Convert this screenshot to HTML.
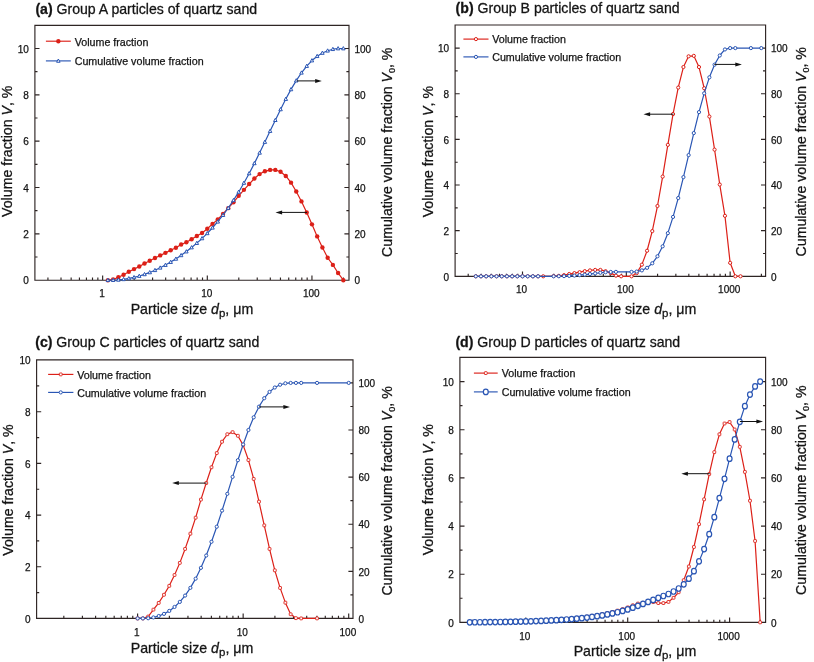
<!DOCTYPE html>
<html lang="en"><head><meta charset="utf-8"><title>Particle size distributions of quartz sand</title>
<style>html,body{margin:0;padding:0;background:#fff}svg{display:block}text{font-family:"Liberation Sans", sans-serif}</style></head>
<body>
<svg width="814" height="662" viewBox="0 0 814 662">
<rect width="814" height="662" fill="#fff"/>
<g>
<text x="35.4" y="13.5" font-size="14.1" fill="#141414" stroke="#141414" stroke-width="0.28"><tspan font-weight="bold">(a)</tspan> Group A particles of quartz sand</text>
<path d="M34.9 25.3H349V280.2H34.9ZM34.9 280.2h4.6M34.9 257.03h2.6M34.9 233.86h4.6M34.9 210.69h2.6M34.9 187.52h4.6M34.9 164.35h2.6M34.9 141.18h4.6M34.9 118.01h2.6M34.9 94.84h4.6M34.9 71.67h2.6M34.9 48.5h4.6M349 280.2h-4.6M349 257.03h-2.6M349 233.86h-4.6M349 210.69h-2.6M349 187.52h-4.6M349 164.35h-2.6M349 141.18h-4.6M349 118.01h-2.6M349 94.84h-4.6M349 71.67h-2.6M349 48.5h-4.6M47.93 280.2v-2.6M61.01 280.2v-2.6M71.15 280.2v-2.6M79.43 280.2v-2.6M86.44 280.2v-2.6M92.51 280.2v-2.6M97.86 280.2v-2.6M102.65 280.2v-4.8M134.15 280.2v-2.6M152.58 280.2v-2.6M165.66 280.2v-2.6M175.8 280.2v-2.6M184.08 280.2v-2.6M191.09 280.2v-2.6M197.16 280.2v-2.6M202.51 280.2v-2.6M207.3 280.2v-4.8M238.8 280.2v-2.6M257.23 280.2v-2.6M270.31 280.2v-2.6M280.45 280.2v-2.6M288.73 280.2v-2.6M295.74 280.2v-2.6M301.81 280.2v-2.6M307.16 280.2v-2.6M311.95 280.2v-4.8M343.45 280.2v-2.6" fill="none" stroke="#2e2524" stroke-width="1.15"/>
<polyline fill="none" stroke="#dc2018" stroke-width="1.2" stroke-linejoin="round" points="107.88,280.2 113.12,279.5 118.35,277.26 123.58,274.73 128.81,271.79 134.05,269.12 139.28,266.53 144.51,263.52 149.74,260.74 154.98,258.07 160.21,255.41 165.44,252.86 170.67,250.31 175.91,247.76 181.14,244.52 186.37,242.2 191.6,239.19 196.84,235.95 202.07,232.93 207.3,228.76 212.53,223.9 217.77,219.49 223,213.93 228.23,208.14 233.46,202.35 238.7,195.86 243.93,189.84 249.16,184.04 254.39,178.48 259.62,174.08 264.86,171.3 270.09,169.91 275.32,169.91 280.56,171.76 285.79,175.93 291.02,182.65 296.25,191.46 301.49,201.42 306.72,212.54 311.95,224.36 317.18,236.41 322.42,247.53 327.65,257.73 332.88,264.91 338.11,273.02 343.35,280.2"/><circle cx="107.88" cy="280.2" r="2.2" fill="#dc2018"/><circle cx="113.12" cy="279.5" r="2.2" fill="#dc2018"/><circle cx="118.35" cy="277.26" r="2.2" fill="#dc2018"/><circle cx="123.58" cy="274.73" r="2.2" fill="#dc2018"/><circle cx="128.81" cy="271.79" r="2.2" fill="#dc2018"/><circle cx="134.05" cy="269.12" r="2.2" fill="#dc2018"/><circle cx="139.28" cy="266.53" r="2.2" fill="#dc2018"/><circle cx="144.51" cy="263.52" r="2.2" fill="#dc2018"/><circle cx="149.74" cy="260.74" r="2.2" fill="#dc2018"/><circle cx="154.98" cy="258.07" r="2.2" fill="#dc2018"/><circle cx="160.21" cy="255.41" r="2.2" fill="#dc2018"/><circle cx="165.44" cy="252.86" r="2.2" fill="#dc2018"/><circle cx="170.67" cy="250.31" r="2.2" fill="#dc2018"/><circle cx="175.91" cy="247.76" r="2.2" fill="#dc2018"/><circle cx="181.14" cy="244.52" r="2.2" fill="#dc2018"/><circle cx="186.37" cy="242.2" r="2.2" fill="#dc2018"/><circle cx="191.6" cy="239.19" r="2.2" fill="#dc2018"/><circle cx="196.84" cy="235.95" r="2.2" fill="#dc2018"/><circle cx="202.07" cy="232.93" r="2.2" fill="#dc2018"/><circle cx="207.3" cy="228.76" r="2.2" fill="#dc2018"/><circle cx="212.53" cy="223.9" r="2.2" fill="#dc2018"/><circle cx="217.77" cy="219.49" r="2.2" fill="#dc2018"/><circle cx="223" cy="213.93" r="2.2" fill="#dc2018"/><circle cx="228.23" cy="208.14" r="2.2" fill="#dc2018"/><circle cx="233.46" cy="202.35" r="2.2" fill="#dc2018"/><circle cx="238.7" cy="195.86" r="2.2" fill="#dc2018"/><circle cx="243.93" cy="189.84" r="2.2" fill="#dc2018"/><circle cx="249.16" cy="184.04" r="2.2" fill="#dc2018"/><circle cx="254.39" cy="178.48" r="2.2" fill="#dc2018"/><circle cx="259.62" cy="174.08" r="2.2" fill="#dc2018"/><circle cx="264.86" cy="171.3" r="2.2" fill="#dc2018"/><circle cx="270.09" cy="169.91" r="2.2" fill="#dc2018"/><circle cx="275.32" cy="169.91" r="2.2" fill="#dc2018"/><circle cx="280.56" cy="171.76" r="2.2" fill="#dc2018"/><circle cx="285.79" cy="175.93" r="2.2" fill="#dc2018"/><circle cx="291.02" cy="182.65" r="2.2" fill="#dc2018"/><circle cx="296.25" cy="191.46" r="2.2" fill="#dc2018"/><circle cx="301.49" cy="201.42" r="2.2" fill="#dc2018"/><circle cx="306.72" cy="212.54" r="2.2" fill="#dc2018"/><circle cx="311.95" cy="224.36" r="2.2" fill="#dc2018"/><circle cx="317.18" cy="236.41" r="2.2" fill="#dc2018"/><circle cx="322.42" cy="247.53" r="2.2" fill="#dc2018"/><circle cx="327.65" cy="257.73" r="2.2" fill="#dc2018"/><circle cx="332.88" cy="264.91" r="2.2" fill="#dc2018"/><circle cx="338.11" cy="273.02" r="2.2" fill="#dc2018"/><circle cx="343.35" cy="280.2" r="2.2" fill="#dc2018"/>
<polyline fill="none" stroke="#2a56b4" stroke-width="1.2" stroke-linejoin="round" points="107.88,280.2 113.12,280.13 118.35,279.84 123.58,279.3 128.81,278.46 134.05,277.36 139.28,276.01 144.51,274.36 149.74,272.43 154.98,270.23 160.21,267.77 165.44,265.06 170.67,262.1 175.91,258.88 181.14,255.34 186.37,251.58 191.6,247.51 196.84,243.12 202.07,238.43 207.3,233.33 212.53,227.75 217.77,221.73 223,215.16 228.23,208.02 233.46,200.3 238.7,191.93 243.93,182.97 249.16,173.44 254.39,163.35 259.62,152.83 264.86,142.03 270.09,131.09 275.32,120.16 280.56,109.41 285.79,99.07 291.02,89.4 296.25,80.6 301.49,72.78 306.72,66.08 311.95,60.54 317.18,56.2 322.42,52.96 327.65,50.73 332.88,49.21 338.11,48.5 343.35,48.5"/><path d="M107.88 278.3L109.63 281.55L106.13 281.55Z" fill="#fff" stroke="#2a56b4" stroke-width="1" stroke-linejoin="round"/><path d="M113.12 278.23L114.87 281.48L111.37 281.48Z" fill="#fff" stroke="#2a56b4" stroke-width="1" stroke-linejoin="round"/><path d="M118.35 277.94L120.1 281.19L116.6 281.19Z" fill="#fff" stroke="#2a56b4" stroke-width="1" stroke-linejoin="round"/><path d="M123.58 277.4L125.33 280.65L121.83 280.65Z" fill="#fff" stroke="#2a56b4" stroke-width="1" stroke-linejoin="round"/><path d="M128.81 276.56L130.56 279.81L127.06 279.81Z" fill="#fff" stroke="#2a56b4" stroke-width="1" stroke-linejoin="round"/><path d="M134.05 275.46L135.8 278.71L132.3 278.71Z" fill="#fff" stroke="#2a56b4" stroke-width="1" stroke-linejoin="round"/><path d="M139.28 274.11L141.03 277.36L137.53 277.36Z" fill="#fff" stroke="#2a56b4" stroke-width="1" stroke-linejoin="round"/><path d="M144.51 272.46L146.26 275.71L142.76 275.71Z" fill="#fff" stroke="#2a56b4" stroke-width="1" stroke-linejoin="round"/><path d="M149.74 270.53L151.49 273.78L147.99 273.78Z" fill="#fff" stroke="#2a56b4" stroke-width="1" stroke-linejoin="round"/><path d="M154.98 268.33L156.73 271.58L153.23 271.58Z" fill="#fff" stroke="#2a56b4" stroke-width="1" stroke-linejoin="round"/><path d="M160.21 265.87L161.96 269.12L158.46 269.12Z" fill="#fff" stroke="#2a56b4" stroke-width="1" stroke-linejoin="round"/><path d="M165.44 263.16L167.19 266.41L163.69 266.41Z" fill="#fff" stroke="#2a56b4" stroke-width="1" stroke-linejoin="round"/><path d="M170.67 260.2L172.42 263.45L168.92 263.45Z" fill="#fff" stroke="#2a56b4" stroke-width="1" stroke-linejoin="round"/><path d="M175.91 256.98L177.66 260.23L174.16 260.23Z" fill="#fff" stroke="#2a56b4" stroke-width="1" stroke-linejoin="round"/><path d="M181.14 253.44L182.89 256.69L179.39 256.69Z" fill="#fff" stroke="#2a56b4" stroke-width="1" stroke-linejoin="round"/><path d="M186.37 249.68L188.12 252.93L184.62 252.93Z" fill="#fff" stroke="#2a56b4" stroke-width="1" stroke-linejoin="round"/><path d="M191.6 245.61L193.35 248.86L189.85 248.86Z" fill="#fff" stroke="#2a56b4" stroke-width="1" stroke-linejoin="round"/><path d="M196.84 241.22L198.59 244.47L195.09 244.47Z" fill="#fff" stroke="#2a56b4" stroke-width="1" stroke-linejoin="round"/><path d="M202.07 236.53L203.82 239.78L200.32 239.78Z" fill="#fff" stroke="#2a56b4" stroke-width="1" stroke-linejoin="round"/><path d="M207.3 231.43L209.05 234.68L205.55 234.68Z" fill="#fff" stroke="#2a56b4" stroke-width="1" stroke-linejoin="round"/><path d="M212.53 225.85L214.28 229.1L210.78 229.1Z" fill="#fff" stroke="#2a56b4" stroke-width="1" stroke-linejoin="round"/><path d="M217.77 219.83L219.52 223.08L216.02 223.08Z" fill="#fff" stroke="#2a56b4" stroke-width="1" stroke-linejoin="round"/><path d="M223 213.26L224.75 216.51L221.25 216.51Z" fill="#fff" stroke="#2a56b4" stroke-width="1" stroke-linejoin="round"/><path d="M228.23 206.12L229.98 209.37L226.48 209.37Z" fill="#fff" stroke="#2a56b4" stroke-width="1" stroke-linejoin="round"/><path d="M233.46 198.4L235.21 201.65L231.71 201.65Z" fill="#fff" stroke="#2a56b4" stroke-width="1" stroke-linejoin="round"/><path d="M238.7 190.03L240.45 193.28L236.95 193.28Z" fill="#fff" stroke="#2a56b4" stroke-width="1" stroke-linejoin="round"/><path d="M243.93 181.07L245.68 184.32L242.18 184.32Z" fill="#fff" stroke="#2a56b4" stroke-width="1" stroke-linejoin="round"/><path d="M249.16 171.54L250.91 174.79L247.41 174.79Z" fill="#fff" stroke="#2a56b4" stroke-width="1" stroke-linejoin="round"/><path d="M254.39 161.45L256.14 164.7L252.64 164.7Z" fill="#fff" stroke="#2a56b4" stroke-width="1" stroke-linejoin="round"/><path d="M259.62 150.93L261.38 154.18L257.88 154.18Z" fill="#fff" stroke="#2a56b4" stroke-width="1" stroke-linejoin="round"/><path d="M264.86 140.13L266.61 143.38L263.11 143.38Z" fill="#fff" stroke="#2a56b4" stroke-width="1" stroke-linejoin="round"/><path d="M270.09 129.19L271.84 132.44L268.34 132.44Z" fill="#fff" stroke="#2a56b4" stroke-width="1" stroke-linejoin="round"/><path d="M275.32 118.26L277.07 121.51L273.57 121.51Z" fill="#fff" stroke="#2a56b4" stroke-width="1" stroke-linejoin="round"/><path d="M280.56 107.51L282.31 110.76L278.81 110.76Z" fill="#fff" stroke="#2a56b4" stroke-width="1" stroke-linejoin="round"/><path d="M285.79 97.17L287.54 100.42L284.04 100.42Z" fill="#fff" stroke="#2a56b4" stroke-width="1" stroke-linejoin="round"/><path d="M291.02 87.5L292.77 90.75L289.27 90.75Z" fill="#fff" stroke="#2a56b4" stroke-width="1" stroke-linejoin="round"/><path d="M296.25 78.7L298 81.95L294.5 81.95Z" fill="#fff" stroke="#2a56b4" stroke-width="1" stroke-linejoin="round"/><path d="M301.49 70.88L303.24 74.13L299.74 74.13Z" fill="#fff" stroke="#2a56b4" stroke-width="1" stroke-linejoin="round"/><path d="M306.72 64.18L308.47 67.43L304.97 67.43Z" fill="#fff" stroke="#2a56b4" stroke-width="1" stroke-linejoin="round"/><path d="M311.95 58.64L313.7 61.89L310.2 61.89Z" fill="#fff" stroke="#2a56b4" stroke-width="1" stroke-linejoin="round"/><path d="M317.18 54.3L318.93 57.55L315.43 57.55Z" fill="#fff" stroke="#2a56b4" stroke-width="1" stroke-linejoin="round"/><path d="M322.42 51.06L324.17 54.31L320.67 54.31Z" fill="#fff" stroke="#2a56b4" stroke-width="1" stroke-linejoin="round"/><path d="M327.65 48.83L329.4 52.08L325.9 52.08Z" fill="#fff" stroke="#2a56b4" stroke-width="1" stroke-linejoin="round"/><path d="M332.88 47.31L334.63 50.56L331.13 50.56Z" fill="#fff" stroke="#2a56b4" stroke-width="1" stroke-linejoin="round"/><path d="M338.11 46.6L339.86 49.85L336.36 49.85Z" fill="#fff" stroke="#2a56b4" stroke-width="1" stroke-linejoin="round"/><path d="M343.35 46.6L345.1 49.85L341.6 49.85Z" fill="#fff" stroke="#2a56b4" stroke-width="1" stroke-linejoin="round"/>
<g font-size="10" fill="#141414" stroke="#141414" stroke-width="0.25"><text x="28.9" y="284.4" text-anchor="end">0</text><text x="28.9" y="238.06" text-anchor="end">2</text><text x="28.9" y="191.72" text-anchor="end">4</text><text x="28.9" y="145.38" text-anchor="end">6</text><text x="28.9" y="99.04" text-anchor="end">8</text><text x="28.9" y="52.7" text-anchor="end">10</text><text x="354.4" y="284.4">0</text><text x="354.4" y="238.06">20</text><text x="354.4" y="191.72">40</text><text x="354.4" y="145.38">60</text><text x="354.4" y="99.04">80</text><text x="354.4" y="52.7">100</text><text x="102.05" y="297.4" text-anchor="middle">1</text><text x="206.7" y="297.4" text-anchor="middle">10</text><text x="311.35" y="297.4" text-anchor="middle">100</text></g>
<text x="191.95" y="313.7" text-anchor="middle" font-size="14.2" fill="#141414" stroke="#141414" stroke-width="0.28">Particle size <tspan font-style="italic">d</tspan><tspan font-size="11.5" dy="3">p</tspan><tspan dy="-3">, μm</tspan></text>
<text transform="translate(12.1 151.25) rotate(-90)" text-anchor="middle" font-size="14.15" fill="#141414" stroke="#141414" stroke-width="0.28">Volume fraction <tspan font-style="italic">V</tspan>, %</text>
<text transform="translate(391.5 152.25) rotate(-90)" text-anchor="middle" font-size="14.15" fill="#141414" stroke="#141414" stroke-width="0.28">Cumulative volume fraction <tspan font-style="italic">V</tspan><tspan font-size="9" dy="3">0</tspan><tspan dy="-3">, %</tspan></text>
<line x1="45.9" y1="41.2" x2="70.8" y2="41.2" stroke="#dc2018" stroke-width="1.15"/><circle cx="58.35" cy="41.2" r="2.2" fill="#dc2018"/>
<line x1="45.9" y1="60.9" x2="70.8" y2="60.9" stroke="#2a56b4" stroke-width="1.15"/><path d="M58.35 59L60.1 62.25L56.6 62.25Z" fill="#fff" stroke="#2a56b4" stroke-width="1" stroke-linejoin="round"/>
<g font-size="10.7" fill="#141414" stroke="#141414" stroke-width="0.25"><text x="74.7" y="45.5">Volume fraction</text><text x="74.7" y="65.2">Cumulative volume fraction</text></g>
<line x1="307" y1="212.4" x2="281.1" y2="212.4" stroke="#111" stroke-width="1"/><path d="M275.5 212.4L282.1 210.4L282.1 214.4Z" fill="#111"/>
<line x1="296.8" y1="80.9" x2="316.2" y2="80.9" stroke="#111" stroke-width="1"/><path d="M321.8 80.9L315.2 78.9L315.2 82.9Z" fill="#111"/>
</g>
<g>
<text x="455.6" y="13.3" font-size="14.1" fill="#141414" stroke="#141414" stroke-width="0.28"><tspan font-weight="bold">(b)</tspan> Group B particles of quartz sand</text>
<path d="M455.1 25H765.6V276.3H455.1ZM455.1 276.3h4.6M455.1 253.48h2.6M455.1 230.66h4.6M455.1 207.84h2.6M455.1 185.02h4.6M455.1 162.2h2.6M455.1 139.38h4.6M455.1 116.56h2.6M455.1 93.74h4.6M455.1 70.92h2.6M455.1 48.1h4.6M765.6 276.3h-4.6M765.6 253.48h-2.6M765.6 230.66h-4.6M765.6 207.84h-2.6M765.6 185.02h-4.6M765.6 162.2h-2.6M765.6 139.38h-4.6M765.6 116.56h-2.6M765.6 93.74h-4.6M765.6 70.92h-2.6M765.6 48.1h-4.6M468.21 276.3v-2.6M481.19 276.3v-2.6M491.25 276.3v-2.6M499.47 276.3v-2.6M506.42 276.3v-2.6M512.44 276.3v-2.6M517.75 276.3v-2.6M522.5 276.3v-4.8M553.75 276.3v-2.6M572.03 276.3v-2.6M585.01 276.3v-2.6M595.07 276.3v-2.6M603.29 276.3v-2.6M610.24 276.3v-2.6M616.26 276.3v-2.6M621.57 276.3v-2.6M626.32 276.3v-4.8M657.57 276.3v-2.6M675.85 276.3v-2.6M688.83 276.3v-2.6M698.89 276.3v-2.6M707.11 276.3v-2.6M714.06 276.3v-2.6M720.08 276.3v-2.6M725.39 276.3v-2.6M730.14 276.3v-4.8M761.39 276.3v-2.6" fill="none" stroke="#2e2524" stroke-width="1.15"/>
<polyline fill="none" stroke="#dc2018" stroke-width="1.2" stroke-linejoin="round" points="475.78,276.3 480.97,276.3 486.16,276.3 491.35,276.3 496.55,276.3 501.74,276.3 506.93,276.3 512.12,276.3 517.31,276.3 522.5,276.3 527.69,276.3 532.88,276.3 538.07,276.3 543.26,276.3 553.65,276.07 558.84,275.84 564.03,275.16 569.22,274.02 574.41,273.11 579.6,272.19 584.79,271.17 589.98,270.37 595.17,269.91 600.37,269.91 605.56,271.17 610.75,273.11 615.94,275.62 621.13,276.3 631.51,276.3 636.7,273.11 641.89,264.66 647.08,250.74 652.27,231.12 657.47,206.01 662.66,176.58 667.85,144.86 673.04,114.05 678.23,87.58 683.42,67.04 688.61,56.32 693.8,55.86 698.99,67.04 704.18,88.26 709.38,116.56 714.57,149.65 719.76,184.56 724.95,215.83 730.14,262.84 735.33,276.3 740.52,276.3"/><circle cx="475.78" cy="276.3" r="1.6" fill="#fff" stroke="#dc2018" stroke-width="1"/><circle cx="480.97" cy="276.3" r="1.6" fill="#fff" stroke="#dc2018" stroke-width="1"/><circle cx="486.16" cy="276.3" r="1.6" fill="#fff" stroke="#dc2018" stroke-width="1"/><circle cx="491.35" cy="276.3" r="1.6" fill="#fff" stroke="#dc2018" stroke-width="1"/><circle cx="496.55" cy="276.3" r="1.6" fill="#fff" stroke="#dc2018" stroke-width="1"/><circle cx="501.74" cy="276.3" r="1.6" fill="#fff" stroke="#dc2018" stroke-width="1"/><circle cx="506.93" cy="276.3" r="1.6" fill="#fff" stroke="#dc2018" stroke-width="1"/><circle cx="512.12" cy="276.3" r="1.6" fill="#fff" stroke="#dc2018" stroke-width="1"/><circle cx="517.31" cy="276.3" r="1.6" fill="#fff" stroke="#dc2018" stroke-width="1"/><circle cx="522.5" cy="276.3" r="1.6" fill="#fff" stroke="#dc2018" stroke-width="1"/><circle cx="527.69" cy="276.3" r="1.6" fill="#fff" stroke="#dc2018" stroke-width="1"/><circle cx="532.88" cy="276.3" r="1.6" fill="#fff" stroke="#dc2018" stroke-width="1"/><circle cx="538.07" cy="276.3" r="1.6" fill="#fff" stroke="#dc2018" stroke-width="1"/><circle cx="543.26" cy="276.3" r="1.6" fill="#fff" stroke="#dc2018" stroke-width="1"/><circle cx="553.65" cy="276.07" r="1.6" fill="#fff" stroke="#dc2018" stroke-width="1"/><circle cx="558.84" cy="275.84" r="1.6" fill="#fff" stroke="#dc2018" stroke-width="1"/><circle cx="564.03" cy="275.16" r="1.6" fill="#fff" stroke="#dc2018" stroke-width="1"/><circle cx="569.22" cy="274.02" r="1.6" fill="#fff" stroke="#dc2018" stroke-width="1"/><circle cx="574.41" cy="273.11" r="1.6" fill="#fff" stroke="#dc2018" stroke-width="1"/><circle cx="579.6" cy="272.19" r="1.6" fill="#fff" stroke="#dc2018" stroke-width="1"/><circle cx="584.79" cy="271.17" r="1.6" fill="#fff" stroke="#dc2018" stroke-width="1"/><circle cx="589.98" cy="270.37" r="1.6" fill="#fff" stroke="#dc2018" stroke-width="1"/><circle cx="595.17" cy="269.91" r="1.6" fill="#fff" stroke="#dc2018" stroke-width="1"/><circle cx="600.37" cy="269.91" r="1.6" fill="#fff" stroke="#dc2018" stroke-width="1"/><circle cx="605.56" cy="271.17" r="1.6" fill="#fff" stroke="#dc2018" stroke-width="1"/><circle cx="610.75" cy="273.11" r="1.6" fill="#fff" stroke="#dc2018" stroke-width="1"/><circle cx="615.94" cy="275.62" r="1.6" fill="#fff" stroke="#dc2018" stroke-width="1"/><circle cx="621.13" cy="276.3" r="1.6" fill="#fff" stroke="#dc2018" stroke-width="1"/><circle cx="631.51" cy="276.3" r="1.6" fill="#fff" stroke="#dc2018" stroke-width="1"/><circle cx="636.7" cy="273.11" r="1.6" fill="#fff" stroke="#dc2018" stroke-width="1"/><circle cx="641.89" cy="264.66" r="1.6" fill="#fff" stroke="#dc2018" stroke-width="1"/><circle cx="647.08" cy="250.74" r="1.6" fill="#fff" stroke="#dc2018" stroke-width="1"/><circle cx="652.27" cy="231.12" r="1.6" fill="#fff" stroke="#dc2018" stroke-width="1"/><circle cx="657.47" cy="206.01" r="1.6" fill="#fff" stroke="#dc2018" stroke-width="1"/><circle cx="662.66" cy="176.58" r="1.6" fill="#fff" stroke="#dc2018" stroke-width="1"/><circle cx="667.85" cy="144.86" r="1.6" fill="#fff" stroke="#dc2018" stroke-width="1"/><circle cx="673.04" cy="114.05" r="1.6" fill="#fff" stroke="#dc2018" stroke-width="1"/><circle cx="678.23" cy="87.58" r="1.6" fill="#fff" stroke="#dc2018" stroke-width="1"/><circle cx="683.42" cy="67.04" r="1.6" fill="#fff" stroke="#dc2018" stroke-width="1"/><circle cx="688.61" cy="56.32" r="1.6" fill="#fff" stroke="#dc2018" stroke-width="1"/><circle cx="693.8" cy="55.86" r="1.6" fill="#fff" stroke="#dc2018" stroke-width="1"/><circle cx="698.99" cy="67.04" r="1.6" fill="#fff" stroke="#dc2018" stroke-width="1"/><circle cx="704.18" cy="88.26" r="1.6" fill="#fff" stroke="#dc2018" stroke-width="1"/><circle cx="709.38" cy="116.56" r="1.6" fill="#fff" stroke="#dc2018" stroke-width="1"/><circle cx="714.57" cy="149.65" r="1.6" fill="#fff" stroke="#dc2018" stroke-width="1"/><circle cx="719.76" cy="184.56" r="1.6" fill="#fff" stroke="#dc2018" stroke-width="1"/><circle cx="724.95" cy="215.83" r="1.6" fill="#fff" stroke="#dc2018" stroke-width="1"/><circle cx="730.14" cy="262.84" r="1.6" fill="#fff" stroke="#dc2018" stroke-width="1"/><circle cx="735.33" cy="276.3" r="1.6" fill="#fff" stroke="#dc2018" stroke-width="1"/><circle cx="740.52" cy="276.3" r="1.6" fill="#fff" stroke="#dc2018" stroke-width="1"/>
<polyline fill="none" stroke="#2a56b4" stroke-width="1.2" stroke-linejoin="round" points="475.78,276.3 480.97,276.3 486.16,276.3 491.35,276.3 496.55,276.3 501.74,276.3 506.93,276.3 512.12,276.3 517.31,276.3 522.5,276.3 527.69,276.3 532.88,276.3 538.07,276.3 553.65,276.28 558.84,276.23 564.03,276.12 569.22,275.89 574.41,275.57 579.6,275.16 584.79,274.65 589.98,274.05 595.17,273.41 600.37,272.77 605.56,272.26 610.75,271.94 615.94,271.87 631.51,271.87 636.7,271.55 641.89,270.39 647.08,267.83 652.27,263.31 657.47,256.28 662.66,246.31 667.85,233.16 673.04,216.93 678.23,198.05 683.42,177.12 688.61,155.11 693.8,133.06 698.99,112.13 704.18,93.32 709.38,77.34 714.57,64.67 719.76,55.5 724.95,49.45 730.14,48.1 735.33,48.1 750.9,48.1 761.29,48.1"/><circle cx="475.78" cy="276.3" r="1.6" fill="#fff" stroke="#2a56b4" stroke-width="1"/><circle cx="480.97" cy="276.3" r="1.6" fill="#fff" stroke="#2a56b4" stroke-width="1"/><circle cx="486.16" cy="276.3" r="1.6" fill="#fff" stroke="#2a56b4" stroke-width="1"/><circle cx="491.35" cy="276.3" r="1.6" fill="#fff" stroke="#2a56b4" stroke-width="1"/><circle cx="496.55" cy="276.3" r="1.6" fill="#fff" stroke="#2a56b4" stroke-width="1"/><circle cx="501.74" cy="276.3" r="1.6" fill="#fff" stroke="#2a56b4" stroke-width="1"/><circle cx="506.93" cy="276.3" r="1.6" fill="#fff" stroke="#2a56b4" stroke-width="1"/><circle cx="512.12" cy="276.3" r="1.6" fill="#fff" stroke="#2a56b4" stroke-width="1"/><circle cx="517.31" cy="276.3" r="1.6" fill="#fff" stroke="#2a56b4" stroke-width="1"/><circle cx="522.5" cy="276.3" r="1.6" fill="#fff" stroke="#2a56b4" stroke-width="1"/><circle cx="527.69" cy="276.3" r="1.6" fill="#fff" stroke="#2a56b4" stroke-width="1"/><circle cx="532.88" cy="276.3" r="1.6" fill="#fff" stroke="#2a56b4" stroke-width="1"/><circle cx="538.07" cy="276.3" r="1.6" fill="#fff" stroke="#2a56b4" stroke-width="1"/><circle cx="553.65" cy="276.28" r="1.6" fill="#fff" stroke="#2a56b4" stroke-width="1"/><circle cx="558.84" cy="276.23" r="1.6" fill="#fff" stroke="#2a56b4" stroke-width="1"/><circle cx="564.03" cy="276.12" r="1.6" fill="#fff" stroke="#2a56b4" stroke-width="1"/><circle cx="569.22" cy="275.89" r="1.6" fill="#fff" stroke="#2a56b4" stroke-width="1"/><circle cx="574.41" cy="275.57" r="1.6" fill="#fff" stroke="#2a56b4" stroke-width="1"/><circle cx="579.6" cy="275.16" r="1.6" fill="#fff" stroke="#2a56b4" stroke-width="1"/><circle cx="584.79" cy="274.65" r="1.6" fill="#fff" stroke="#2a56b4" stroke-width="1"/><circle cx="589.98" cy="274.05" r="1.6" fill="#fff" stroke="#2a56b4" stroke-width="1"/><circle cx="595.17" cy="273.41" r="1.6" fill="#fff" stroke="#2a56b4" stroke-width="1"/><circle cx="600.37" cy="272.77" r="1.6" fill="#fff" stroke="#2a56b4" stroke-width="1"/><circle cx="605.56" cy="272.26" r="1.6" fill="#fff" stroke="#2a56b4" stroke-width="1"/><circle cx="610.75" cy="271.94" r="1.6" fill="#fff" stroke="#2a56b4" stroke-width="1"/><circle cx="615.94" cy="271.87" r="1.6" fill="#fff" stroke="#2a56b4" stroke-width="1"/><circle cx="631.51" cy="271.87" r="1.6" fill="#fff" stroke="#2a56b4" stroke-width="1"/><circle cx="636.7" cy="271.55" r="1.6" fill="#fff" stroke="#2a56b4" stroke-width="1"/><circle cx="641.89" cy="270.39" r="1.6" fill="#fff" stroke="#2a56b4" stroke-width="1"/><circle cx="647.08" cy="267.83" r="1.6" fill="#fff" stroke="#2a56b4" stroke-width="1"/><circle cx="652.27" cy="263.31" r="1.6" fill="#fff" stroke="#2a56b4" stroke-width="1"/><circle cx="657.47" cy="256.28" r="1.6" fill="#fff" stroke="#2a56b4" stroke-width="1"/><circle cx="662.66" cy="246.31" r="1.6" fill="#fff" stroke="#2a56b4" stroke-width="1"/><circle cx="667.85" cy="233.16" r="1.6" fill="#fff" stroke="#2a56b4" stroke-width="1"/><circle cx="673.04" cy="216.93" r="1.6" fill="#fff" stroke="#2a56b4" stroke-width="1"/><circle cx="678.23" cy="198.05" r="1.6" fill="#fff" stroke="#2a56b4" stroke-width="1"/><circle cx="683.42" cy="177.12" r="1.6" fill="#fff" stroke="#2a56b4" stroke-width="1"/><circle cx="688.61" cy="155.11" r="1.6" fill="#fff" stroke="#2a56b4" stroke-width="1"/><circle cx="693.8" cy="133.06" r="1.6" fill="#fff" stroke="#2a56b4" stroke-width="1"/><circle cx="698.99" cy="112.13" r="1.6" fill="#fff" stroke="#2a56b4" stroke-width="1"/><circle cx="704.18" cy="93.32" r="1.6" fill="#fff" stroke="#2a56b4" stroke-width="1"/><circle cx="709.38" cy="77.34" r="1.6" fill="#fff" stroke="#2a56b4" stroke-width="1"/><circle cx="714.57" cy="64.67" r="1.6" fill="#fff" stroke="#2a56b4" stroke-width="1"/><circle cx="719.76" cy="55.5" r="1.6" fill="#fff" stroke="#2a56b4" stroke-width="1"/><circle cx="724.95" cy="49.45" r="1.6" fill="#fff" stroke="#2a56b4" stroke-width="1"/><circle cx="730.14" cy="48.1" r="1.6" fill="#fff" stroke="#2a56b4" stroke-width="1"/><circle cx="735.33" cy="48.1" r="1.6" fill="#fff" stroke="#2a56b4" stroke-width="1"/><circle cx="750.9" cy="48.1" r="1.6" fill="#fff" stroke="#2a56b4" stroke-width="1"/><circle cx="761.29" cy="48.1" r="1.6" fill="#fff" stroke="#2a56b4" stroke-width="1"/>
<g font-size="10" fill="#141414" stroke="#141414" stroke-width="0.25"><text x="449.1" y="280.5" text-anchor="end">0</text><text x="449.1" y="234.86" text-anchor="end">2</text><text x="449.1" y="189.22" text-anchor="end">4</text><text x="449.1" y="143.58" text-anchor="end">6</text><text x="449.1" y="97.94" text-anchor="end">8</text><text x="449.1" y="52.3" text-anchor="end">10</text><text x="771" y="280.5">0</text><text x="771" y="234.86">20</text><text x="771" y="189.22">40</text><text x="771" y="143.58">60</text><text x="771" y="97.94">80</text><text x="771" y="52.3">100</text><text x="521.6" y="293.3" text-anchor="middle">10</text><text x="625.42" y="293.3" text-anchor="middle">100</text><text x="729.24" y="293.3" text-anchor="middle">1000</text></g>
<text x="635.05" y="313.7" text-anchor="middle" font-size="14.2" fill="#141414" stroke="#141414" stroke-width="0.28">Particle size <tspan font-style="italic">d</tspan><tspan font-size="11.5" dy="3">p</tspan><tspan dy="-3">, μm</tspan></text>
<text transform="translate(432.6 151.65) rotate(-90)" text-anchor="middle" font-size="14.15" fill="#141414" stroke="#141414" stroke-width="0.28">Volume fraction <tspan font-style="italic">V</tspan>, %</text>
<text transform="translate(805.9 151.75) rotate(-90)" text-anchor="middle" font-size="14.15" fill="#141414" stroke="#141414" stroke-width="0.28">Cumulative volume fraction <tspan font-style="italic">V</tspan><tspan font-size="9" dy="3">0</tspan><tspan dy="-3">, %</tspan></text>
<line x1="463.4" y1="39.1" x2="488.5" y2="39.1" stroke="#dc2018" stroke-width="1.15"/><circle cx="475.95" cy="39.1" r="1.6" fill="#fff" stroke="#dc2018" stroke-width="1"/>
<line x1="463.4" y1="56.9" x2="488.5" y2="56.9" stroke="#2a56b4" stroke-width="1.15"/><circle cx="475.95" cy="56.9" r="1.6" fill="#fff" stroke="#2a56b4" stroke-width="1"/>
<g font-size="10.7" fill="#141414" stroke="#141414" stroke-width="0.25"><text x="492.2" y="43.4">Volume fraction</text><text x="492.2" y="61.2">Cumulative volume fraction</text></g>
<line x1="673.5" y1="114.2" x2="649.1" y2="114.2" stroke="#111" stroke-width="1"/><path d="M643.5 114.2L650.1 112.2L650.1 116.2Z" fill="#111"/>
<line x1="714.3" y1="64.4" x2="736.3" y2="64.4" stroke="#111" stroke-width="1"/><path d="M741.9 64.4L735.3 62.4L735.3 66.4Z" fill="#111"/>
</g>
<g>
<text x="35.2" y="346.9" font-size="14.1" fill="#141414" stroke="#141414" stroke-width="0.28"><tspan font-weight="bold">(c)</tspan> Group C particles of quartz sand</text>
<path d="M36.6 359.8H353V618.4H36.6ZM36.6 618.4h4.6M36.6 592.57h2.6M36.6 566.74h4.6M36.6 540.91h2.6M36.6 515.08h4.6M36.6 489.25h2.6M36.6 463.42h4.6M36.6 437.59h2.6M36.6 411.76h4.6M36.6 385.93h2.6M353 618.4h-4.6M353 594.85h-2.6M353 571.3h-4.6M353 547.75h-2.6M353 524.2h-4.6M353 500.65h-2.6M353 477.1h-4.6M353 453.55h-2.6M353 430h-4.6M353 406.45h-2.6M353 382.9h-4.6M63.82 618.4v-2.6M82.41 618.4v-2.6M95.6 618.4v-2.6M105.83 618.4v-2.6M114.18 618.4v-2.6M121.25 618.4v-2.6M127.37 618.4v-2.6M132.77 618.4v-2.6M137.6 618.4v-4.8M169.37 618.4v-2.6M187.96 618.4v-2.6M201.15 618.4v-2.6M211.38 618.4v-2.6M219.73 618.4v-2.6M226.8 618.4v-2.6M232.92 618.4v-2.6M238.32 618.4v-2.6M243.15 618.4v-4.8M274.92 618.4v-2.6M293.51 618.4v-2.6M306.7 618.4v-2.6M316.93 618.4v-2.6M325.28 618.4v-2.6M332.35 618.4v-2.6M338.47 618.4v-2.6M343.87 618.4v-2.6M348.7 618.4v-4.8" fill="none" stroke="#2e2524" stroke-width="1.15"/>
<polyline fill="none" stroke="#dc2018" stroke-width="1.2" stroke-linejoin="round" points="137.6,618.4 142.88,618.4 148.16,616.59 153.43,609.62 158.71,602.9 163.99,594.77 169.26,585.85 174.54,575.01 179.82,562.87 185.1,548.92 190.38,533.68 195.65,517.66 200.93,499.58 206.21,483.05 211.48,467.29 216.76,453.09 222.04,441.72 227.32,434.23 232.59,432.17 237.87,435.78 243.15,445.08 248.43,460.06 253.7,478.92 258.98,501.65 264.26,525.41 269.54,548.92 274.81,570.36 280.09,587.92 285.37,602.64 290.65,614.27 295.92,618.14 301.2,618.4 317.03,618.4"/><rect x="136.2" y="617" width="2.8" height="2.8" rx="0.5" fill="#fff" stroke="#dc2018" stroke-width="0.9"/><rect x="141.48" y="617" width="2.8" height="2.8" rx="0.5" fill="#fff" stroke="#dc2018" stroke-width="0.9"/><rect x="146.75" y="615.19" width="2.8" height="2.8" rx="0.5" fill="#fff" stroke="#dc2018" stroke-width="0.9"/><rect x="152.03" y="608.22" width="2.8" height="2.8" rx="0.5" fill="#fff" stroke="#dc2018" stroke-width="0.9"/><rect x="157.31" y="601.5" width="2.8" height="2.8" rx="0.5" fill="#fff" stroke="#dc2018" stroke-width="0.9"/><rect x="162.59" y="593.37" width="2.8" height="2.8" rx="0.5" fill="#fff" stroke="#dc2018" stroke-width="0.9"/><rect x="167.86" y="584.45" width="2.8" height="2.8" rx="0.5" fill="#fff" stroke="#dc2018" stroke-width="0.9"/><rect x="173.14" y="573.61" width="2.8" height="2.8" rx="0.5" fill="#fff" stroke="#dc2018" stroke-width="0.9"/><rect x="178.42" y="561.47" width="2.8" height="2.8" rx="0.5" fill="#fff" stroke="#dc2018" stroke-width="0.9"/><rect x="183.7" y="547.52" width="2.8" height="2.8" rx="0.5" fill="#fff" stroke="#dc2018" stroke-width="0.9"/><rect x="188.97" y="532.28" width="2.8" height="2.8" rx="0.5" fill="#fff" stroke="#dc2018" stroke-width="0.9"/><rect x="194.25" y="516.26" width="2.8" height="2.8" rx="0.5" fill="#fff" stroke="#dc2018" stroke-width="0.9"/><rect x="199.53" y="498.18" width="2.8" height="2.8" rx="0.5" fill="#fff" stroke="#dc2018" stroke-width="0.9"/><rect x="204.81" y="481.65" width="2.8" height="2.8" rx="0.5" fill="#fff" stroke="#dc2018" stroke-width="0.9"/><rect x="210.08" y="465.89" width="2.8" height="2.8" rx="0.5" fill="#fff" stroke="#dc2018" stroke-width="0.9"/><rect x="215.36" y="451.69" width="2.8" height="2.8" rx="0.5" fill="#fff" stroke="#dc2018" stroke-width="0.9"/><rect x="220.64" y="440.32" width="2.8" height="2.8" rx="0.5" fill="#fff" stroke="#dc2018" stroke-width="0.9"/><rect x="225.92" y="432.83" width="2.8" height="2.8" rx="0.5" fill="#fff" stroke="#dc2018" stroke-width="0.9"/><rect x="231.19" y="430.77" width="2.8" height="2.8" rx="0.5" fill="#fff" stroke="#dc2018" stroke-width="0.9"/><rect x="236.47" y="434.38" width="2.8" height="2.8" rx="0.5" fill="#fff" stroke="#dc2018" stroke-width="0.9"/><rect x="241.75" y="443.68" width="2.8" height="2.8" rx="0.5" fill="#fff" stroke="#dc2018" stroke-width="0.9"/><rect x="247.03" y="458.66" width="2.8" height="2.8" rx="0.5" fill="#fff" stroke="#dc2018" stroke-width="0.9"/><rect x="252.3" y="477.52" width="2.8" height="2.8" rx="0.5" fill="#fff" stroke="#dc2018" stroke-width="0.9"/><rect x="257.58" y="500.25" width="2.8" height="2.8" rx="0.5" fill="#fff" stroke="#dc2018" stroke-width="0.9"/><rect x="262.86" y="524.01" width="2.8" height="2.8" rx="0.5" fill="#fff" stroke="#dc2018" stroke-width="0.9"/><rect x="268.14" y="547.52" width="2.8" height="2.8" rx="0.5" fill="#fff" stroke="#dc2018" stroke-width="0.9"/><rect x="273.42" y="568.96" width="2.8" height="2.8" rx="0.5" fill="#fff" stroke="#dc2018" stroke-width="0.9"/><rect x="278.69" y="586.52" width="2.8" height="2.8" rx="0.5" fill="#fff" stroke="#dc2018" stroke-width="0.9"/><rect x="283.97" y="601.24" width="2.8" height="2.8" rx="0.5" fill="#fff" stroke="#dc2018" stroke-width="0.9"/><rect x="289.25" y="612.87" width="2.8" height="2.8" rx="0.5" fill="#fff" stroke="#dc2018" stroke-width="0.9"/><rect x="294.52" y="616.74" width="2.8" height="2.8" rx="0.5" fill="#fff" stroke="#dc2018" stroke-width="0.9"/><rect x="299.8" y="617" width="2.8" height="2.8" rx="0.5" fill="#fff" stroke="#dc2018" stroke-width="0.9"/><rect x="315.63" y="617" width="2.8" height="2.8" rx="0.5" fill="#fff" stroke="#dc2018" stroke-width="0.9"/>
<polyline fill="none" stroke="#2a56b4" stroke-width="1.2" stroke-linejoin="round" points="137.6,618.4 142.88,618.4 148.16,618.24 153.43,617.44 158.71,616.02 163.99,613.87 169.26,610.91 174.54,606.95 179.82,601.9 185.1,595.57 190.38,587.85 195.65,578.67 200.93,567.85 206.21,555.52 211.48,541.76 216.76,526.7 222.04,510.61 227.32,493.83 232.59,476.87 237.87,460.24 243.15,444.45 248.43,430.03 253.7,417.32 258.98,406.69 264.26,398.22 269.54,391.89 274.81,387.51 280.09,384.74 285.37,383.3 290.65,382.92 295.92,382.9 301.2,382.9 317.03,382.9 348.7,382.9"/><circle cx="137.6" cy="618.4" r="1.6" fill="#fff" stroke="#2a56b4" stroke-width="1"/><circle cx="142.88" cy="618.4" r="1.6" fill="#fff" stroke="#2a56b4" stroke-width="1"/><circle cx="148.16" cy="618.24" r="1.6" fill="#fff" stroke="#2a56b4" stroke-width="1"/><circle cx="153.43" cy="617.44" r="1.6" fill="#fff" stroke="#2a56b4" stroke-width="1"/><circle cx="158.71" cy="616.02" r="1.6" fill="#fff" stroke="#2a56b4" stroke-width="1"/><circle cx="163.99" cy="613.87" r="1.6" fill="#fff" stroke="#2a56b4" stroke-width="1"/><circle cx="169.26" cy="610.91" r="1.6" fill="#fff" stroke="#2a56b4" stroke-width="1"/><circle cx="174.54" cy="606.95" r="1.6" fill="#fff" stroke="#2a56b4" stroke-width="1"/><circle cx="179.82" cy="601.9" r="1.6" fill="#fff" stroke="#2a56b4" stroke-width="1"/><circle cx="185.1" cy="595.57" r="1.6" fill="#fff" stroke="#2a56b4" stroke-width="1"/><circle cx="190.38" cy="587.85" r="1.6" fill="#fff" stroke="#2a56b4" stroke-width="1"/><circle cx="195.65" cy="578.67" r="1.6" fill="#fff" stroke="#2a56b4" stroke-width="1"/><circle cx="200.93" cy="567.85" r="1.6" fill="#fff" stroke="#2a56b4" stroke-width="1"/><circle cx="206.21" cy="555.52" r="1.6" fill="#fff" stroke="#2a56b4" stroke-width="1"/><circle cx="211.48" cy="541.76" r="1.6" fill="#fff" stroke="#2a56b4" stroke-width="1"/><circle cx="216.76" cy="526.7" r="1.6" fill="#fff" stroke="#2a56b4" stroke-width="1"/><circle cx="222.04" cy="510.61" r="1.6" fill="#fff" stroke="#2a56b4" stroke-width="1"/><circle cx="227.32" cy="493.83" r="1.6" fill="#fff" stroke="#2a56b4" stroke-width="1"/><circle cx="232.59" cy="476.87" r="1.6" fill="#fff" stroke="#2a56b4" stroke-width="1"/><circle cx="237.87" cy="460.24" r="1.6" fill="#fff" stroke="#2a56b4" stroke-width="1"/><circle cx="243.15" cy="444.45" r="1.6" fill="#fff" stroke="#2a56b4" stroke-width="1"/><circle cx="248.43" cy="430.03" r="1.6" fill="#fff" stroke="#2a56b4" stroke-width="1"/><circle cx="253.7" cy="417.32" r="1.6" fill="#fff" stroke="#2a56b4" stroke-width="1"/><circle cx="258.98" cy="406.69" r="1.6" fill="#fff" stroke="#2a56b4" stroke-width="1"/><circle cx="264.26" cy="398.22" r="1.6" fill="#fff" stroke="#2a56b4" stroke-width="1"/><circle cx="269.54" cy="391.89" r="1.6" fill="#fff" stroke="#2a56b4" stroke-width="1"/><circle cx="274.81" cy="387.51" r="1.6" fill="#fff" stroke="#2a56b4" stroke-width="1"/><circle cx="280.09" cy="384.74" r="1.6" fill="#fff" stroke="#2a56b4" stroke-width="1"/><circle cx="285.37" cy="383.3" r="1.6" fill="#fff" stroke="#2a56b4" stroke-width="1"/><circle cx="290.65" cy="382.92" r="1.6" fill="#fff" stroke="#2a56b4" stroke-width="1"/><circle cx="295.92" cy="382.9" r="1.6" fill="#fff" stroke="#2a56b4" stroke-width="1"/><circle cx="301.2" cy="382.9" r="1.6" fill="#fff" stroke="#2a56b4" stroke-width="1"/><circle cx="317.03" cy="382.9" r="1.6" fill="#fff" stroke="#2a56b4" stroke-width="1"/><circle cx="348.7" cy="382.9" r="1.6" fill="#fff" stroke="#2a56b4" stroke-width="1"/>
<g font-size="10" fill="#141414" stroke="#141414" stroke-width="0.25"><text x="30.6" y="622.6" text-anchor="end">0</text><text x="30.6" y="570.94" text-anchor="end">2</text><text x="30.6" y="519.28" text-anchor="end">4</text><text x="30.6" y="467.62" text-anchor="end">6</text><text x="30.6" y="415.96" text-anchor="end">8</text><text x="30.6" y="364.3" text-anchor="end">10</text><text x="358.4" y="622.6">0</text><text x="358.4" y="575.5">20</text><text x="358.4" y="528.4">40</text><text x="358.4" y="481.3">60</text><text x="358.4" y="434.2">80</text><text x="358.4" y="387.1">100</text><text x="136.8" y="636.3" text-anchor="middle">1</text><text x="242.35" y="636.3" text-anchor="middle">10</text><text x="347.9" y="636.3" text-anchor="middle">100</text></g>
<text x="192" y="652.9" text-anchor="middle" font-size="14.2" fill="#141414" stroke="#141414" stroke-width="0.28">Particle size <tspan font-style="italic">d</tspan><tspan font-size="11.5" dy="3">p</tspan><tspan dy="-3">, μm</tspan></text>
<text transform="translate(12.7 490) rotate(-90)" text-anchor="middle" font-size="14.15" fill="#141414" stroke="#141414" stroke-width="0.28">Volume fraction <tspan font-style="italic">V</tspan>, %</text>
<text transform="translate(392.4 490.9) rotate(-90)" text-anchor="middle" font-size="14.15" fill="#141414" stroke="#141414" stroke-width="0.28">Cumulative volume fraction <tspan font-style="italic">V</tspan><tspan font-size="9" dy="3">0</tspan><tspan dy="-3">, %</tspan></text>
<line x1="48.1" y1="374.4" x2="73.4" y2="374.4" stroke="#dc2018" stroke-width="1.15"/><rect x="59.35" y="373" width="2.8" height="2.8" rx="0.5" fill="#fff" stroke="#dc2018" stroke-width="0.9"/>
<line x1="48.1" y1="392.4" x2="73.4" y2="392.4" stroke="#2a56b4" stroke-width="1.15"/><circle cx="60.75" cy="392.4" r="1.6" fill="#fff" stroke="#2a56b4" stroke-width="1"/>
<g font-size="10.7" fill="#141414" stroke="#141414" stroke-width="0.25"><text x="77.2" y="378.7">Volume fraction</text><text x="77.2" y="396.7">Cumulative volume fraction</text></g>
<line x1="206.6" y1="483.1" x2="177.8" y2="483.1" stroke="#111" stroke-width="1"/><path d="M172.2 483.1L178.8 481.1L178.8 485.1Z" fill="#111"/>
<line x1="259" y1="406.9" x2="284.4" y2="406.9" stroke="#111" stroke-width="1"/><path d="M290 406.9L283.4 404.9L283.4 408.9Z" fill="#111"/>
</g>
<g>
<text x="455.4" y="347.2" font-size="14.1" fill="#141414" stroke="#141414" stroke-width="0.28"><tspan font-weight="bold">(d)</tspan> Group D particles of quartz sand</text>
<path d="M459.9 357.3H765.6V622.35H459.9ZM459.9 622.35h4.6M459.9 598.27h2.6M459.9 574.2h4.6M459.9 550.12h2.6M459.9 526.05h4.6M459.9 501.98h2.6M459.9 477.9h4.6M459.9 453.83h2.6M459.9 429.75h4.6M459.9 405.68h2.6M459.9 381.6h4.6M765.6 622.35h-4.6M765.6 598.27h-2.6M765.6 574.2h-4.6M765.6 550.12h-2.6M765.6 526.05h-4.6M765.6 501.98h-2.6M765.6 477.9h-4.6M765.6 453.83h-2.6M765.6 429.75h-4.6M765.6 405.68h-2.6M765.6 381.6h-4.6M472.52 622.35v-2.6M485.25 622.35v-2.6M495.13 622.35v-2.6M503.19 622.35v-2.6M510.02 622.35v-2.6M515.92 622.35v-2.6M521.14 622.35v-2.6M525.8 622.35v-4.8M556.47 622.35v-2.6M574.42 622.35v-2.6M587.15 622.35v-2.6M597.03 622.35v-2.6M605.09 622.35v-2.6M611.92 622.35v-2.6M617.82 622.35v-2.6M623.04 622.35v-2.6M627.7 622.35v-4.8M658.37 622.35v-2.6M676.32 622.35v-2.6M689.05 622.35v-2.6M698.93 622.35v-2.6M706.99 622.35v-2.6M713.82 622.35v-2.6M719.72 622.35v-2.6M724.94 622.35v-2.6M729.6 622.35v-4.8M760.27 622.35v-2.6" fill="none" stroke="#2e2524" stroke-width="1.15"/>
<polyline fill="none" stroke="#dc2018" stroke-width="1.2" stroke-linejoin="round" points="469.75,621.99 474.85,621.94 479.94,621.89 485.04,621.83 490.13,621.77 495.23,621.69 500.32,621.61 505.42,621.51 510.51,621.41 515.61,621.28 520.7,621.15 525.8,621 530.89,620.82 535.99,620.63 541.08,620.41 546.18,620.16 551.27,619.88 556.37,619.57 561.46,619.21 566.56,618.81 571.65,618.36 576.75,617.85 581.84,617.28 586.94,616.63 592.03,615.91 597.13,615.08 602.22,614.16 607.32,613.11 612.41,611.94 617.51,610.61 622.61,609.11 627.7,607.42 632.79,605.26 637.89,603.57 642.98,602.85 648.08,602.37 653.17,602.13 658.27,603.09 663.37,603.09 668.46,601.89 673.55,597.79 678.65,592.26 683.74,580.22 688.84,566.5 693.93,547 699.03,524.12 704.12,499.33 709.22,474.05 714.31,452.14 719.41,434.32 724.5,423.49 729.6,422.05 734.69,429.51 739.79,446.84 744.88,471.88 749.98,500.77 755.07,540.98 760.17,622.35"/><rect x="468.35" y="620.59" width="2.8" height="2.8" rx="0.5" fill="#fff" stroke="#dc2018" stroke-width="0.9"/><rect x="473.45" y="620.54" width="2.8" height="2.8" rx="0.5" fill="#fff" stroke="#dc2018" stroke-width="0.9"/><rect x="478.54" y="620.49" width="2.8" height="2.8" rx="0.5" fill="#fff" stroke="#dc2018" stroke-width="0.9"/><rect x="483.64" y="620.43" width="2.8" height="2.8" rx="0.5" fill="#fff" stroke="#dc2018" stroke-width="0.9"/><rect x="488.73" y="620.37" width="2.8" height="2.8" rx="0.5" fill="#fff" stroke="#dc2018" stroke-width="0.9"/><rect x="493.83" y="620.29" width="2.8" height="2.8" rx="0.5" fill="#fff" stroke="#dc2018" stroke-width="0.9"/><rect x="498.92" y="620.21" width="2.8" height="2.8" rx="0.5" fill="#fff" stroke="#dc2018" stroke-width="0.9"/><rect x="504.02" y="620.11" width="2.8" height="2.8" rx="0.5" fill="#fff" stroke="#dc2018" stroke-width="0.9"/><rect x="509.11" y="620.01" width="2.8" height="2.8" rx="0.5" fill="#fff" stroke="#dc2018" stroke-width="0.9"/><rect x="514.21" y="619.88" width="2.8" height="2.8" rx="0.5" fill="#fff" stroke="#dc2018" stroke-width="0.9"/><rect x="519.3" y="619.75" width="2.8" height="2.8" rx="0.5" fill="#fff" stroke="#dc2018" stroke-width="0.9"/><rect x="524.4" y="619.6" width="2.8" height="2.8" rx="0.5" fill="#fff" stroke="#dc2018" stroke-width="0.9"/><rect x="529.5" y="619.42" width="2.8" height="2.8" rx="0.5" fill="#fff" stroke="#dc2018" stroke-width="0.9"/><rect x="534.59" y="619.23" width="2.8" height="2.8" rx="0.5" fill="#fff" stroke="#dc2018" stroke-width="0.9"/><rect x="539.68" y="619.01" width="2.8" height="2.8" rx="0.5" fill="#fff" stroke="#dc2018" stroke-width="0.9"/><rect x="544.78" y="618.76" width="2.8" height="2.8" rx="0.5" fill="#fff" stroke="#dc2018" stroke-width="0.9"/><rect x="549.88" y="618.48" width="2.8" height="2.8" rx="0.5" fill="#fff" stroke="#dc2018" stroke-width="0.9"/><rect x="554.97" y="618.17" width="2.8" height="2.8" rx="0.5" fill="#fff" stroke="#dc2018" stroke-width="0.9"/><rect x="560.06" y="617.81" width="2.8" height="2.8" rx="0.5" fill="#fff" stroke="#dc2018" stroke-width="0.9"/><rect x="565.16" y="617.41" width="2.8" height="2.8" rx="0.5" fill="#fff" stroke="#dc2018" stroke-width="0.9"/><rect x="570.25" y="616.96" width="2.8" height="2.8" rx="0.5" fill="#fff" stroke="#dc2018" stroke-width="0.9"/><rect x="575.35" y="616.45" width="2.8" height="2.8" rx="0.5" fill="#fff" stroke="#dc2018" stroke-width="0.9"/><rect x="580.44" y="615.88" width="2.8" height="2.8" rx="0.5" fill="#fff" stroke="#dc2018" stroke-width="0.9"/><rect x="585.54" y="615.23" width="2.8" height="2.8" rx="0.5" fill="#fff" stroke="#dc2018" stroke-width="0.9"/><rect x="590.63" y="614.51" width="2.8" height="2.8" rx="0.5" fill="#fff" stroke="#dc2018" stroke-width="0.9"/><rect x="595.73" y="613.68" width="2.8" height="2.8" rx="0.5" fill="#fff" stroke="#dc2018" stroke-width="0.9"/><rect x="600.82" y="612.76" width="2.8" height="2.8" rx="0.5" fill="#fff" stroke="#dc2018" stroke-width="0.9"/><rect x="605.92" y="611.71" width="2.8" height="2.8" rx="0.5" fill="#fff" stroke="#dc2018" stroke-width="0.9"/><rect x="611.01" y="610.54" width="2.8" height="2.8" rx="0.5" fill="#fff" stroke="#dc2018" stroke-width="0.9"/><rect x="616.11" y="609.21" width="2.8" height="2.8" rx="0.5" fill="#fff" stroke="#dc2018" stroke-width="0.9"/><rect x="621.21" y="607.71" width="2.8" height="2.8" rx="0.5" fill="#fff" stroke="#dc2018" stroke-width="0.9"/><rect x="626.3" y="606.02" width="2.8" height="2.8" rx="0.5" fill="#fff" stroke="#dc2018" stroke-width="0.9"/><rect x="631.39" y="603.86" width="2.8" height="2.8" rx="0.5" fill="#fff" stroke="#dc2018" stroke-width="0.9"/><rect x="636.49" y="602.17" width="2.8" height="2.8" rx="0.5" fill="#fff" stroke="#dc2018" stroke-width="0.9"/><rect x="641.58" y="601.45" width="2.8" height="2.8" rx="0.5" fill="#fff" stroke="#dc2018" stroke-width="0.9"/><rect x="646.68" y="600.97" width="2.8" height="2.8" rx="0.5" fill="#fff" stroke="#dc2018" stroke-width="0.9"/><rect x="651.77" y="600.73" width="2.8" height="2.8" rx="0.5" fill="#fff" stroke="#dc2018" stroke-width="0.9"/><rect x="656.87" y="601.69" width="2.8" height="2.8" rx="0.5" fill="#fff" stroke="#dc2018" stroke-width="0.9"/><rect x="661.97" y="601.69" width="2.8" height="2.8" rx="0.5" fill="#fff" stroke="#dc2018" stroke-width="0.9"/><rect x="667.06" y="600.49" width="2.8" height="2.8" rx="0.5" fill="#fff" stroke="#dc2018" stroke-width="0.9"/><rect x="672.15" y="596.39" width="2.8" height="2.8" rx="0.5" fill="#fff" stroke="#dc2018" stroke-width="0.9"/><rect x="677.25" y="590.86" width="2.8" height="2.8" rx="0.5" fill="#fff" stroke="#dc2018" stroke-width="0.9"/><rect x="682.34" y="578.82" width="2.8" height="2.8" rx="0.5" fill="#fff" stroke="#dc2018" stroke-width="0.9"/><rect x="687.44" y="565.1" width="2.8" height="2.8" rx="0.5" fill="#fff" stroke="#dc2018" stroke-width="0.9"/><rect x="692.53" y="545.6" width="2.8" height="2.8" rx="0.5" fill="#fff" stroke="#dc2018" stroke-width="0.9"/><rect x="697.63" y="522.72" width="2.8" height="2.8" rx="0.5" fill="#fff" stroke="#dc2018" stroke-width="0.9"/><rect x="702.73" y="497.93" width="2.8" height="2.8" rx="0.5" fill="#fff" stroke="#dc2018" stroke-width="0.9"/><rect x="707.82" y="472.65" width="2.8" height="2.8" rx="0.5" fill="#fff" stroke="#dc2018" stroke-width="0.9"/><rect x="712.91" y="450.74" width="2.8" height="2.8" rx="0.5" fill="#fff" stroke="#dc2018" stroke-width="0.9"/><rect x="718.01" y="432.92" width="2.8" height="2.8" rx="0.5" fill="#fff" stroke="#dc2018" stroke-width="0.9"/><rect x="723.11" y="422.09" width="2.8" height="2.8" rx="0.5" fill="#fff" stroke="#dc2018" stroke-width="0.9"/><rect x="728.2" y="420.65" width="2.8" height="2.8" rx="0.5" fill="#fff" stroke="#dc2018" stroke-width="0.9"/><rect x="733.29" y="428.11" width="2.8" height="2.8" rx="0.5" fill="#fff" stroke="#dc2018" stroke-width="0.9"/><rect x="738.39" y="445.44" width="2.8" height="2.8" rx="0.5" fill="#fff" stroke="#dc2018" stroke-width="0.9"/><rect x="743.49" y="470.48" width="2.8" height="2.8" rx="0.5" fill="#fff" stroke="#dc2018" stroke-width="0.9"/><rect x="748.58" y="499.37" width="2.8" height="2.8" rx="0.5" fill="#fff" stroke="#dc2018" stroke-width="0.9"/><rect x="753.67" y="539.58" width="2.8" height="2.8" rx="0.5" fill="#fff" stroke="#dc2018" stroke-width="0.9"/><rect x="758.77" y="620.95" width="2.8" height="2.8" rx="0.5" fill="#fff" stroke="#dc2018" stroke-width="0.9"/>
<polyline fill="none" stroke="#2a56b4" stroke-width="1.2" stroke-linejoin="round" points="469.75,622.31 474.85,622.27 479.94,622.23 485.04,622.18 490.13,622.12 495.23,622.05 500.32,621.98 505.42,621.89 510.51,621.8 515.61,621.69 520.7,621.57 525.8,621.44 530.89,621.28 535.99,621.11 541.08,620.92 546.18,620.7 551.27,620.45 556.37,620.17 561.46,619.86 566.56,619.51 571.65,619.11 576.75,618.66 581.84,618.15 586.94,617.58 592.03,616.94 597.13,616.21 602.22,615.39 607.32,614.47 612.41,613.42 617.51,612.25 622.61,610.93 627.7,609.43 632.79,607.72 637.89,605.85 642.98,603.9 648.08,601.9 653.17,599.88 658.27,597.95 663.37,596.02 668.46,593.98 673.55,591.52 678.65,588.51 683.74,584.3 688.84,578.71 693.93,571.18 699.03,561.36 704.12,549.05 709.22,534.22 714.31,517.2 719.41,498.12 724.5,478.86 729.6,458.64 734.69,439.38 739.79,421.81 744.88,406.16 749.98,394.6 755.07,386.41 760.17,381.6"/><ellipse cx="469.75" cy="622.31" rx="2.45" ry="2.75" fill="#fff" stroke="#2a56b4" stroke-width="1.2"/><ellipse cx="474.85" cy="622.27" rx="2.45" ry="2.75" fill="#fff" stroke="#2a56b4" stroke-width="1.2"/><ellipse cx="479.94" cy="622.23" rx="2.45" ry="2.75" fill="#fff" stroke="#2a56b4" stroke-width="1.2"/><ellipse cx="485.04" cy="622.18" rx="2.45" ry="2.75" fill="#fff" stroke="#2a56b4" stroke-width="1.2"/><ellipse cx="490.13" cy="622.12" rx="2.45" ry="2.75" fill="#fff" stroke="#2a56b4" stroke-width="1.2"/><ellipse cx="495.23" cy="622.05" rx="2.45" ry="2.75" fill="#fff" stroke="#2a56b4" stroke-width="1.2"/><ellipse cx="500.32" cy="621.98" rx="2.45" ry="2.75" fill="#fff" stroke="#2a56b4" stroke-width="1.2"/><ellipse cx="505.42" cy="621.89" rx="2.45" ry="2.75" fill="#fff" stroke="#2a56b4" stroke-width="1.2"/><ellipse cx="510.51" cy="621.8" rx="2.45" ry="2.75" fill="#fff" stroke="#2a56b4" stroke-width="1.2"/><ellipse cx="515.61" cy="621.69" rx="2.45" ry="2.75" fill="#fff" stroke="#2a56b4" stroke-width="1.2"/><ellipse cx="520.7" cy="621.57" rx="2.45" ry="2.75" fill="#fff" stroke="#2a56b4" stroke-width="1.2"/><ellipse cx="525.8" cy="621.44" rx="2.45" ry="2.75" fill="#fff" stroke="#2a56b4" stroke-width="1.2"/><ellipse cx="530.89" cy="621.28" rx="2.45" ry="2.75" fill="#fff" stroke="#2a56b4" stroke-width="1.2"/><ellipse cx="535.99" cy="621.11" rx="2.45" ry="2.75" fill="#fff" stroke="#2a56b4" stroke-width="1.2"/><ellipse cx="541.08" cy="620.92" rx="2.45" ry="2.75" fill="#fff" stroke="#2a56b4" stroke-width="1.2"/><ellipse cx="546.18" cy="620.7" rx="2.45" ry="2.75" fill="#fff" stroke="#2a56b4" stroke-width="1.2"/><ellipse cx="551.27" cy="620.45" rx="2.45" ry="2.75" fill="#fff" stroke="#2a56b4" stroke-width="1.2"/><ellipse cx="556.37" cy="620.17" rx="2.45" ry="2.75" fill="#fff" stroke="#2a56b4" stroke-width="1.2"/><ellipse cx="561.46" cy="619.86" rx="2.45" ry="2.75" fill="#fff" stroke="#2a56b4" stroke-width="1.2"/><ellipse cx="566.56" cy="619.51" rx="2.45" ry="2.75" fill="#fff" stroke="#2a56b4" stroke-width="1.2"/><ellipse cx="571.65" cy="619.11" rx="2.45" ry="2.75" fill="#fff" stroke="#2a56b4" stroke-width="1.2"/><ellipse cx="576.75" cy="618.66" rx="2.45" ry="2.75" fill="#fff" stroke="#2a56b4" stroke-width="1.2"/><ellipse cx="581.84" cy="618.15" rx="2.45" ry="2.75" fill="#fff" stroke="#2a56b4" stroke-width="1.2"/><ellipse cx="586.94" cy="617.58" rx="2.45" ry="2.75" fill="#fff" stroke="#2a56b4" stroke-width="1.2"/><ellipse cx="592.03" cy="616.94" rx="2.45" ry="2.75" fill="#fff" stroke="#2a56b4" stroke-width="1.2"/><ellipse cx="597.13" cy="616.21" rx="2.45" ry="2.75" fill="#fff" stroke="#2a56b4" stroke-width="1.2"/><ellipse cx="602.22" cy="615.39" rx="2.45" ry="2.75" fill="#fff" stroke="#2a56b4" stroke-width="1.2"/><ellipse cx="607.32" cy="614.47" rx="2.45" ry="2.75" fill="#fff" stroke="#2a56b4" stroke-width="1.2"/><ellipse cx="612.41" cy="613.42" rx="2.45" ry="2.75" fill="#fff" stroke="#2a56b4" stroke-width="1.2"/><ellipse cx="617.51" cy="612.25" rx="2.45" ry="2.75" fill="#fff" stroke="#2a56b4" stroke-width="1.2"/><ellipse cx="622.61" cy="610.93" rx="2.45" ry="2.75" fill="#fff" stroke="#2a56b4" stroke-width="1.2"/><ellipse cx="627.7" cy="609.43" rx="2.45" ry="2.75" fill="#fff" stroke="#2a56b4" stroke-width="1.2"/><ellipse cx="632.79" cy="607.72" rx="2.45" ry="2.75" fill="#fff" stroke="#2a56b4" stroke-width="1.2"/><ellipse cx="637.89" cy="605.85" rx="2.45" ry="2.75" fill="#fff" stroke="#2a56b4" stroke-width="1.2"/><ellipse cx="642.98" cy="603.9" rx="2.45" ry="2.75" fill="#fff" stroke="#2a56b4" stroke-width="1.2"/><ellipse cx="648.08" cy="601.9" rx="2.45" ry="2.75" fill="#fff" stroke="#2a56b4" stroke-width="1.2"/><ellipse cx="653.17" cy="599.88" rx="2.45" ry="2.75" fill="#fff" stroke="#2a56b4" stroke-width="1.2"/><ellipse cx="658.27" cy="597.95" rx="2.45" ry="2.75" fill="#fff" stroke="#2a56b4" stroke-width="1.2"/><ellipse cx="663.37" cy="596.02" rx="2.45" ry="2.75" fill="#fff" stroke="#2a56b4" stroke-width="1.2"/><ellipse cx="668.46" cy="593.98" rx="2.45" ry="2.75" fill="#fff" stroke="#2a56b4" stroke-width="1.2"/><ellipse cx="673.55" cy="591.52" rx="2.45" ry="2.75" fill="#fff" stroke="#2a56b4" stroke-width="1.2"/><ellipse cx="678.65" cy="588.51" rx="2.45" ry="2.75" fill="#fff" stroke="#2a56b4" stroke-width="1.2"/><ellipse cx="683.74" cy="584.3" rx="2.45" ry="2.75" fill="#fff" stroke="#2a56b4" stroke-width="1.2"/><ellipse cx="688.84" cy="578.71" rx="2.45" ry="2.75" fill="#fff" stroke="#2a56b4" stroke-width="1.2"/><ellipse cx="693.93" cy="571.18" rx="2.45" ry="2.75" fill="#fff" stroke="#2a56b4" stroke-width="1.2"/><ellipse cx="699.03" cy="561.36" rx="2.45" ry="2.75" fill="#fff" stroke="#2a56b4" stroke-width="1.2"/><ellipse cx="704.12" cy="549.05" rx="2.45" ry="2.75" fill="#fff" stroke="#2a56b4" stroke-width="1.2"/><ellipse cx="709.22" cy="534.22" rx="2.45" ry="2.75" fill="#fff" stroke="#2a56b4" stroke-width="1.2"/><ellipse cx="714.31" cy="517.2" rx="2.45" ry="2.75" fill="#fff" stroke="#2a56b4" stroke-width="1.2"/><ellipse cx="719.41" cy="498.12" rx="2.45" ry="2.75" fill="#fff" stroke="#2a56b4" stroke-width="1.2"/><ellipse cx="724.5" cy="478.86" rx="2.45" ry="2.75" fill="#fff" stroke="#2a56b4" stroke-width="1.2"/><ellipse cx="729.6" cy="458.64" rx="2.45" ry="2.75" fill="#fff" stroke="#2a56b4" stroke-width="1.2"/><ellipse cx="734.69" cy="439.38" rx="2.45" ry="2.75" fill="#fff" stroke="#2a56b4" stroke-width="1.2"/><ellipse cx="739.79" cy="421.81" rx="2.45" ry="2.75" fill="#fff" stroke="#2a56b4" stroke-width="1.2"/><ellipse cx="744.88" cy="406.16" rx="2.45" ry="2.75" fill="#fff" stroke="#2a56b4" stroke-width="1.2"/><ellipse cx="749.98" cy="394.6" rx="2.45" ry="2.75" fill="#fff" stroke="#2a56b4" stroke-width="1.2"/><ellipse cx="755.07" cy="386.41" rx="2.45" ry="2.75" fill="#fff" stroke="#2a56b4" stroke-width="1.2"/><ellipse cx="760.17" cy="381.6" rx="2.45" ry="2.75" fill="#fff" stroke="#2a56b4" stroke-width="1.2"/>
<g font-size="10" fill="#141414" stroke="#141414" stroke-width="0.25"><text x="453.9" y="626.55" text-anchor="end">0</text><text x="453.9" y="578.4" text-anchor="end">2</text><text x="453.9" y="530.25" text-anchor="end">4</text><text x="453.9" y="482.1" text-anchor="end">6</text><text x="453.9" y="433.95" text-anchor="end">8</text><text x="453.9" y="385.8" text-anchor="end">10</text><text x="771" y="626.55">0</text><text x="771" y="578.4">20</text><text x="771" y="530.25">40</text><text x="771" y="482.1">60</text><text x="771" y="433.95">80</text><text x="771" y="385.8">100</text><text x="524.8" y="639.55" text-anchor="middle">10</text><text x="626.7" y="639.55" text-anchor="middle">100</text><text x="728.6" y="639.55" text-anchor="middle">1000</text></g>
<text x="634.95" y="655.55" text-anchor="middle" font-size="14.2" fill="#141414" stroke="#141414" stroke-width="0.28">Particle size <tspan font-style="italic">d</tspan><tspan font-size="11.5" dy="3">p</tspan><tspan dy="-3">, μm</tspan></text>
<text transform="translate(432.9 489.73) rotate(-90)" text-anchor="middle" font-size="14.15" fill="#141414" stroke="#141414" stroke-width="0.28">Volume fraction <tspan font-style="italic">V</tspan>, %</text>
<text transform="translate(806 490.23) rotate(-90)" text-anchor="middle" font-size="14.15" fill="#141414" stroke="#141414" stroke-width="0.28">Cumulative volume fraction <tspan font-style="italic">V</tspan><tspan font-size="9" dy="3">0</tspan><tspan dy="-3">, %</tspan></text>
<line x1="473.9" y1="373.1" x2="497.7" y2="373.1" stroke="#dc2018" stroke-width="1.15"/><rect x="484.4" y="371.7" width="2.8" height="2.8" rx="0.5" fill="#fff" stroke="#dc2018" stroke-width="0.9"/>
<line x1="473.9" y1="391.9" x2="497.7" y2="391.9" stroke="#2a56b4" stroke-width="1.15"/><ellipse cx="485.8" cy="391.9" rx="2.45" ry="2.75" fill="#fff" stroke="#2a56b4" stroke-width="1.2"/>
<g font-size="10.7" fill="#141414" stroke="#141414" stroke-width="0.25"><text x="501.7" y="377.4">Volume fraction</text><text x="501.7" y="396.2">Cumulative volume fraction</text></g>
<line x1="709.7" y1="473.7" x2="686.9" y2="473.7" stroke="#111" stroke-width="1"/><path d="M681.3 473.7L687.9 471.7L687.9 475.7Z" fill="#111"/>
<line x1="739.9" y1="421.5" x2="757.4" y2="421.5" stroke="#111" stroke-width="1"/><path d="M763 421.5L756.4 419.5L756.4 423.5Z" fill="#111"/>
</g>
</svg>
</body></html>
